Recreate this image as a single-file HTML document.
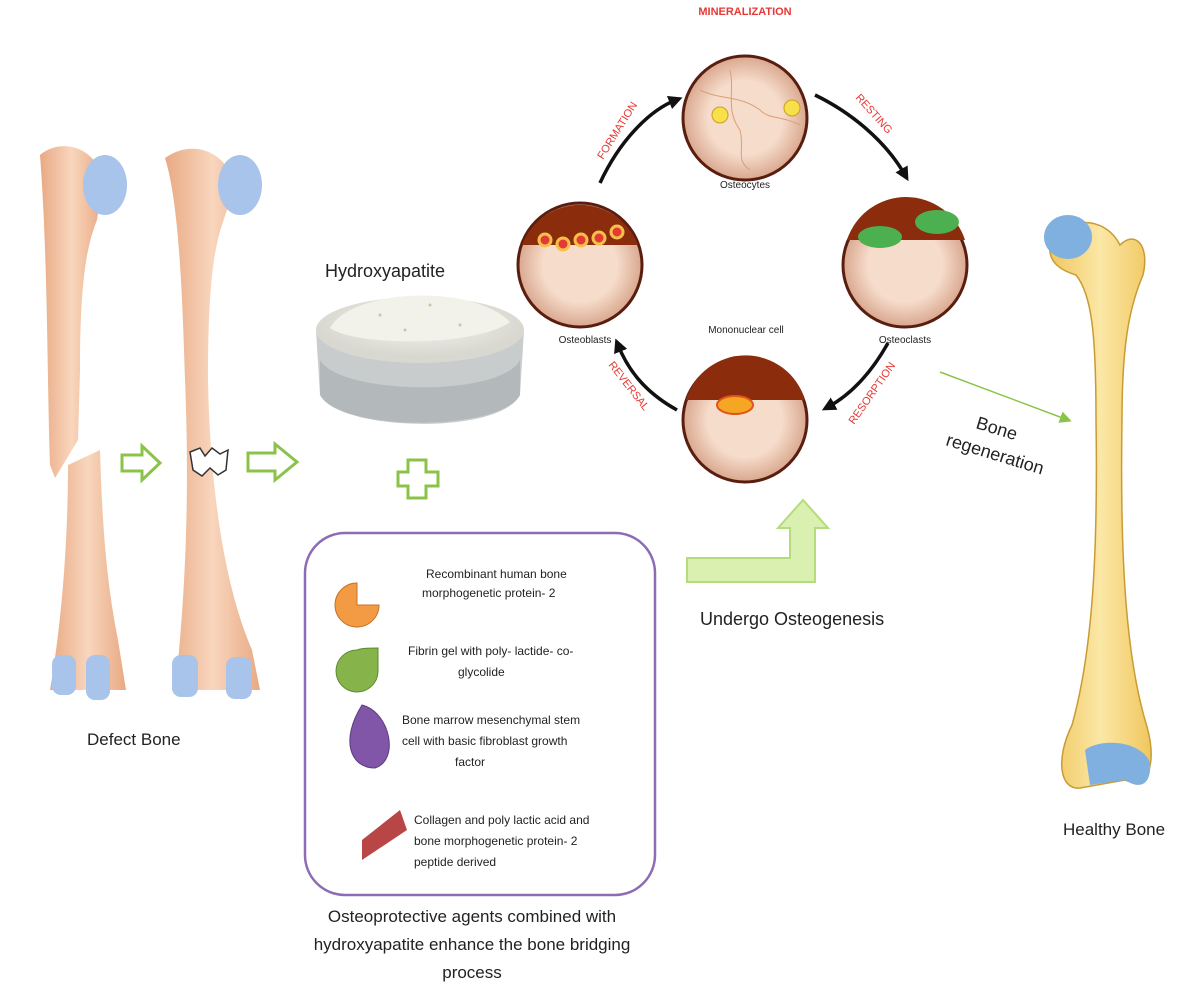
<!DOCTYPE html>
<html><head><meta charset="utf-8"><style>
html,body{margin:0;padding:0;background:#fff;}
svg{display:block}
text{font-family:"Liberation Sans",sans-serif;}
</style></head><body>
<svg width="1200" height="993" viewBox="0 0 1200 993" xmlns="http://www.w3.org/2000/svg">
<defs>
<linearGradient id="bone" x1="0" x2="1"><stop offset="0" stop-color="#e9a983"/><stop offset="0.5" stop-color="#f8d6bd"/><stop offset="1" stop-color="#e9a983"/></linearGradient>
<linearGradient id="ybone" x1="0" x2="1"><stop offset="0" stop-color="#f0c75e"/><stop offset="0.5" stop-color="#fbe7a6"/><stop offset="1" stop-color="#f0c75e"/></linearGradient>
<radialGradient id="cell"><stop offset="0.6" stop-color="#f6dccb"/><stop offset="1" stop-color="#d9a78e"/></radialGradient>
<radialGradient id="dish" cx="0.5" cy="0.4"><stop offset="0" stop-color="#f4f4ef"/><stop offset="1" stop-color="#d8d8d0"/></radialGradient>
<marker id="ah" markerUnits="userSpaceOnUse" markerWidth="14" markerHeight="14" refX="7" refY="7" orient="auto"><path d="M0,0 L14,7 L0,14 z" fill="#111"/></marker>
<marker id="gh" markerUnits="userSpaceOnUse" markerWidth="12" markerHeight="12" refX="8" refY="6" orient="auto"><path d="M0,0 L12,6 L0,12 z" fill="#8bc34a"/></marker>
</defs>

<!-- Defect bone 1 -->
<path d="M40,155 C60,138 95,145 103,180 L97,220 C85,250 80,290 80,370 L78,440 L55,478 L50,465 C47,380 48,260 40,155 z" fill="url(#bone)"/>
<ellipse cx="105" cy="185" rx="22" ry="30" fill="#a9c4ea"/>
<path d="M68,465 L100,450 C102,520 106,580 118,640 L126,690 L50,690 C62,620 68,540 68,465 z" fill="url(#bone)"/>
<rect x="52" y="655" width="24" height="40" rx="9" fill="#a9c4ea"/>
<rect x="86" y="655" width="24" height="45" rx="9" fill="#a9c4ea"/>

<!-- Defect bone 2 -->
<path d="M165,158 C190,140 225,148 235,185 L222,225 C212,255 208,300 208,380 C210,480 222,580 252,650 L260,690 L175,690 C185,600 190,500 185,380 C182,280 178,200 165,158 z" fill="url(#bone)"/>
<ellipse cx="240" cy="185" rx="22" ry="30" fill="#a9c4ea"/>
<rect x="172" y="655" width="26" height="42" rx="9" fill="#a9c4ea"/>
<rect x="226" y="657" width="26" height="42" rx="9" fill="#a9c4ea"/>
<path d="M190,452 L200,448 L205,456 L212,448 L220,454 L228,450 L226,470 L218,475 L210,468 L202,476 L193,470 z" fill="#fff" stroke="#333" stroke-width="1.5"/>

<!-- hollow arrows -->
<path d="M122,455 L142,455 L142,446 L160,463 L142,480 L142,471 L122,471 z" fill="#fff" stroke="#8bc34a" stroke-width="3"/>
<path d="M248,453 L275,453 L275,444 L297,462 L275,480 L275,471 L248,471 z" fill="#fff" stroke="#8bc34a" stroke-width="3"/>
<text x="87" y="745" font-size="17" fill="#222">Defect Bone</text>

<!-- Hydroxyapatite -->
<text x="325" y="277" font-size="18" fill="#222">Hydroxyapatite</text>
<path d="M316,330 L320,395 C340,432 500,435 520,395 L524,330 z" fill="#c8cccc"/>
<path d="M320,360 C340,395 500,398 520,360 L520,395 C500,432 340,432 320,395 z" fill="#b3b8ba"/>
<ellipse cx="420" cy="330" rx="104" ry="33" fill="url(#dish)"/>
<path d="M330,328 C350,290 470,282 510,322 C480,345 360,348 330,328 z" fill="#f3f2ea"/>
<g fill="#c9c6a8"><circle cx="380" cy="315" r="1.5"/><circle cx="430" cy="305" r="1.5"/><circle cx="460" cy="325" r="1.5"/><circle cx="405" cy="330" r="1.5"/></g>
<path d="M398,472 L408,472 L408,460 L426,460 L426,472 L438,472 L438,486 L426,486 L426,498 L408,498 L408,486 L398,486 z" fill="#fff" stroke="#8bc34a" stroke-width="3"/>

<!-- Purple box -->
<rect x="305" y="533" width="350" height="362" rx="40" fill="#fff" stroke="#8e6bb5" stroke-width="2.5"/>
<path d="M357,583 A22,22 0 1,0 379,605 L357,605 z" fill="#f39a45" stroke="#c97328"/>
<text x="426" y="578" font-size="12" fill="#222">Recombinant human bone</text>
<text x="422" y="597" font-size="12" fill="#222">morphogenetic protein- 2</text>
<path d="M378,648 L378,672 A21,21 0 1,1 357,650 C362,648 370,648 378,648 z" fill="#86b44a" stroke="#5f8a30"/>
<text x="408" y="655" font-size="12" fill="#222">Fibrin gel with poly- lactide- co-</text>
<text x="458" y="676" font-size="12" fill="#222">glycolide</text>
<path d="M362,705 C390,712 400,760 375,768 C350,768 340,740 362,705 z" fill="#8156a8" stroke="#5d3c80"/>
<text x="402" y="724" font-size="12" fill="#222">Bone marrow mesenchymal stem</text>
<text x="402" y="745" font-size="12" fill="#222">cell with basic fibroblast growth</text>
<text x="455" y="766" font-size="12" fill="#222">factor</text>
<path d="M362,840 L362,860 L407,830 L400,810 z" fill="#b84646"/>
<text x="414" y="824" font-size="12" fill="#222">Collagen and poly lactic acid and</text>
<text x="414" y="845" font-size="12" fill="#222">bone morphogenetic protein- 2</text>
<text x="414" y="866" font-size="12" fill="#222">peptide derived</text>
<text x="472" y="922" font-size="17" fill="#222" text-anchor="middle">Osteoprotective agents combined with</text>
<text x="472" y="950" font-size="17" fill="#222" text-anchor="middle">hydroxyapatite enhance the bone bridging</text>
<text x="472" y="978" font-size="17" fill="#222" text-anchor="middle">process</text>

<!-- Cycle -->
<path d="M600,183 C620,140 650,110 676,100" fill="none" stroke="#111" stroke-width="3.5" marker-end="url(#ah)"/>
<path d="M815,95 C850,112 885,140 905,175" fill="none" stroke="#111" stroke-width="3.5" marker-end="url(#ah)"/>
<path d="M888,343 C870,375 850,395 828,407" fill="none" stroke="#111" stroke-width="3.5" marker-end="url(#ah)"/>
<path d="M677,410 C650,395 630,375 618,345" fill="none" stroke="#111" stroke-width="3.5" marker-end="url(#ah)"/>

<g stroke="#5a1e10" stroke-width="3">
<circle cx="745" cy="118" r="62" fill="url(#cell)"/>
<circle cx="580" cy="265" r="62" fill="url(#cell)"/>
<circle cx="905" cy="265" r="62" fill="url(#cell)"/>
<circle cx="745" cy="420" r="62" fill="url(#cell)"/>
</g>
<g stroke="#d9a078" fill="none" stroke-width="1"><path d="M700,90 C720,100 740,95 760,110 C770,120 780,115 800,125"/><path d="M730,70 C735,90 725,110 740,130 C745,150 735,160 750,170"/></g>
<circle cx="720" cy="115" r="8" fill="#f7e04a" stroke="#c9a020"/>
<circle cx="792" cy="108" r="8" fill="#f7e04a" stroke="#c9a020"/>
<path d="M522,245 A62,62 0 0,1 638,245 L522,245 z" fill="#8b2c0c"/>
<g fill="#e53935" stroke="#f5c04a" stroke-width="3"><circle cx="545" cy="240" r="6"/><circle cx="563" cy="244" r="6"/><circle cx="581" cy="240" r="6"/><circle cx="599" cy="238" r="6"/><circle cx="617" cy="232" r="6"/></g>
<path d="M847,240 A62,62 0 0,1 965,240 L847,240 z" fill="#8b2c0c"/>
<ellipse cx="880" cy="237" rx="22" ry="11" fill="#4caf50"/>
<ellipse cx="937" cy="222" rx="22" ry="12" fill="#4caf50"/>
<path d="M686,400 A62,62 0 0,1 805,400 L686,400 z" fill="#8b2c0c"/>
<ellipse cx="735" cy="405" rx="18" ry="9" fill="#f5a623" stroke="#e2531a" stroke-width="2"/>

<text x="745" y="15" font-size="11" fill="#e53935" text-anchor="middle" font-weight="bold">MINERALIZATION</text>
<text x="745" y="188" font-size="10" fill="#222" text-anchor="middle">Osteocytes</text>
<text x="585" y="343" font-size="10" fill="#222" text-anchor="middle">Osteoblasts</text>
<text x="905" y="343" font-size="10" fill="#222" text-anchor="middle">Osteoclasts</text>
<text x="746" y="333" font-size="10" fill="#222" text-anchor="middle">Mononuclear cell</text>
<text transform="translate(603,160) rotate(-58)" font-size="11" fill="#e53935">FORMATION</text>
<text transform="translate(855,98) rotate(48)" font-size="11" fill="#e53935">RESTING</text>
<text transform="translate(854,425) rotate(-55)" font-size="11" fill="#e53935">RESORPTION</text>
<text transform="translate(608,365) rotate(52)" font-size="11" fill="#e53935">REVERSAL</text>

<!-- Green L arrow -->
<path d="M687,558 L790,558 L790,528 L778,528 L803,500 L828,528 L815,528 L815,582 L687,582 z" fill="#d9f0b0" stroke="#b5dc7a" stroke-width="2"/>
<text x="700" y="625" font-size="18" fill="#222">Undergo Osteogenesis</text>

<line x1="940" y1="372" x2="1068" y2="420" stroke="#8bc34a" stroke-width="1.5" marker-end="url(#gh)"/>
<text transform="translate(975,428) rotate(17)" font-size="18" fill="#222">Bone</text>
<text transform="translate(945,445) rotate(17)" font-size="18" fill="#222">regeneration</text>

<!-- Healthy bone -->
<path d="M1050,245 C1065,215 1105,215 1120,245 C1135,230 1150,245 1143,275 C1128,310 1122,350 1122,420 C1120,550 1125,650 1145,720 C1158,760 1150,790 1125,780 L1080,788 C1060,790 1055,760 1072,725 C1093,650 1098,550 1096,420 C1096,335 1092,295 1076,275 C1060,270 1048,262 1050,245 z" fill="url(#ybone)" stroke="#c99b35" stroke-width="1.5"/>
<ellipse cx="1068" cy="237" rx="24" ry="22" fill="#7fb0df"/>
<path d="M1085,750 C1100,738 1140,740 1150,762 C1152,785 1140,790 1125,780 L1090,785 z" fill="#7fb0df"/>
<text x="1063" y="835" font-size="17" fill="#222">Healthy Bone</text>
</svg>
</body></html>
